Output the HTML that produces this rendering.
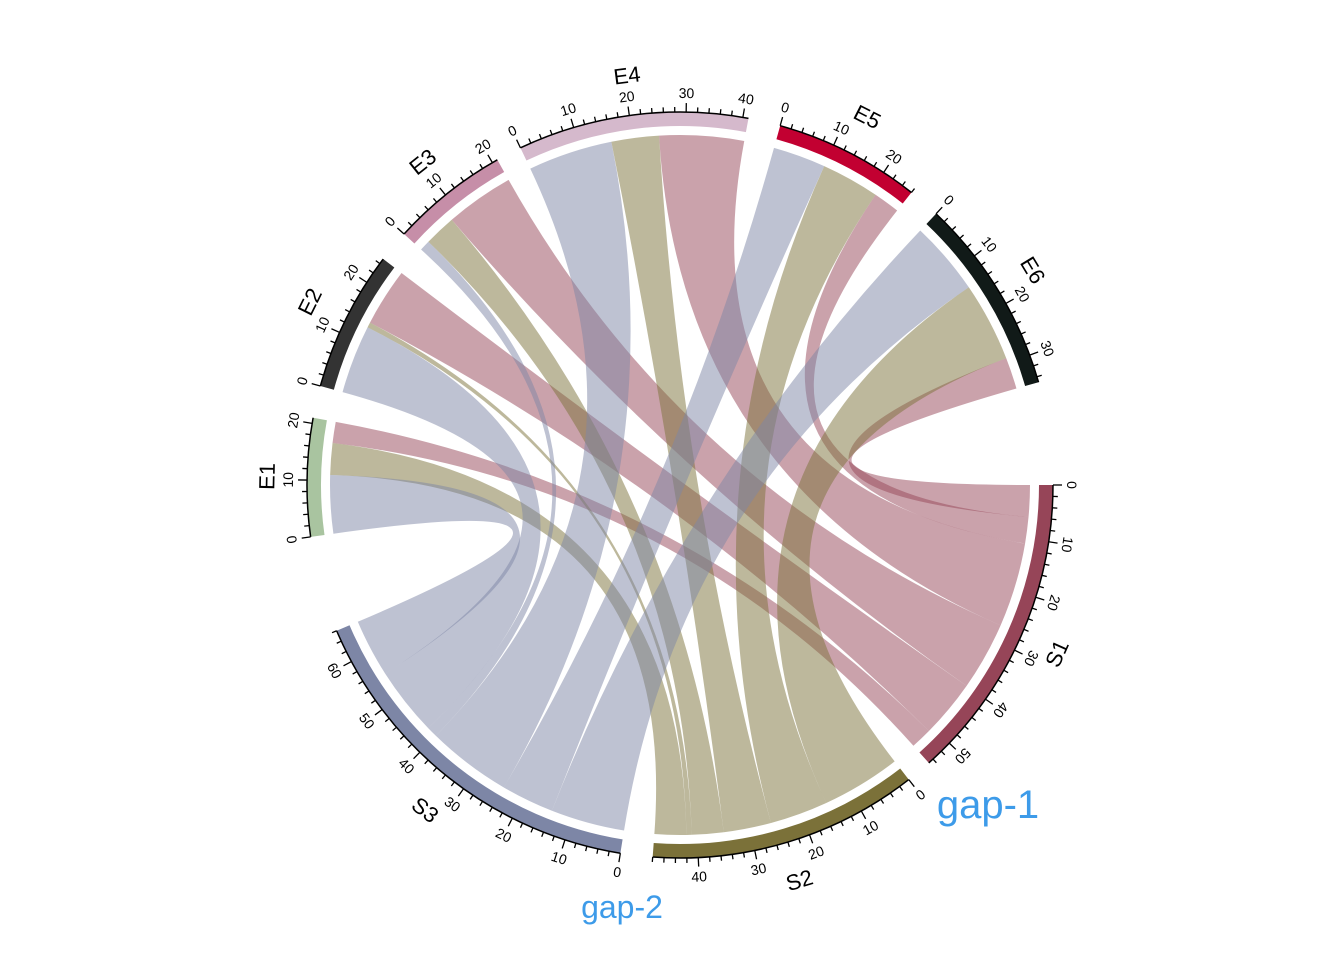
<!DOCTYPE html>
<html><head><meta charset="utf-8"><style>
html,body{margin:0;padding:0;background:#fff;}
svg{display:block;font-family:"Liberation Sans",sans-serif;}
</style></head><body>
<svg id="chart" width="1344" height="960" viewBox="0 0 1344 960">
<g id="chords"></g>
<g id="tracks"></g>
<text x="988" y="818" font-size="40" fill="#3d9be9" text-anchor="middle">gap-1</text>
<text x="622" y="918" font-size="32" fill="#3d9be9" text-anchor="middle">gap-2</text>
</svg>
<script>
const sectors = ["S1","S2","S3","E1","E2","E3","E4","E5","E6"];
const sectorColors = ["#964558","#7b7139","#7d86a6","#a9c4a0","#333333","#c68ea8","#d5b9cc","#c20031","#111a18"];
const gapsAfter = [4,5,15,5,5,4,5,5,16];
const sources = ["S1","S2","S3"];
const targets = ["E1","E2","E3","E4","E5","E6"];
const flowS1 = [4,11,13,16,5,6];
const flowS2 = [6,1,6,9,11,15];
const flowS3 = [11,13,2,16,10,14];
const flows = [flowS1,flowS2,flowS3];

const NS="http://www.w3.org/2000/svg";
const cx=680, cy=485, rIn=350, rT0=359, rT1=373;
const totals = sectors.map(s=>{
  if(s[0]==="S"){const i=sources.indexOf(s);return flows[i].reduce((a,b)=>a+b,0);}
  const j=targets.indexOf(s);return flows.reduce((a,f)=>a+f[j],0);
});
const unit=(360-gapsAfter.reduce((a,b)=>a+b,0))/totals.reduce((a,b)=>a+b,0);
const start=[];let ang=0;
sectors.forEach((s,i)=>{start.push(ang);ang+=totals[i]*unit+gapsAfter[i];});
function angOf(si,v){return start[si]+v*unit;}
function pt(a,r){const t=a*Math.PI/180;return [cx+r*Math.cos(t),cy+r*Math.sin(t)];}
function f(p){return p[0].toFixed(2)+","+p[1].toFixed(2);}

const pos={};
sources.forEach((s,i)=>{let off=0;const si=sectors.indexOf(s);
  for(let j=targets.length-1;j>=0;j--){pos[s+"-"+targets[j]+"-s"]=[angOf(si,off),angOf(si,off+flows[i][j])];off+=flows[i][j];}});
targets.forEach((t,j)=>{let off=0;const ti=sectors.indexOf(t);
  for(let i=sources.length-1;i>=0;i--){pos[sources[i]+"-"+t+"-t"]=[angOf(ti,off),angOf(ti,off+flows[i][j])];off+=flows[i][j];}});

const gC=document.getElementById("chords");
sources.forEach((s,i)=>{targets.forEach((t,j)=>{
  if(!flows[i][j])return;
  const a=pos[s+"-"+t+"-s"], b=pos[s+"-"+t+"-t"];
  const c=cx+","+cy;
  const d="M"+f(pt(a[0],rIn))+" A"+rIn+","+rIn+" 0 0 1 "+f(pt(a[1],rIn))+
    " Q"+c+" "+f(pt(b[0],rIn))+" A"+rIn+","+rIn+" 0 0 1 "+f(pt(b[1],rIn))+
    " Q"+c+" "+f(pt(a[0],rIn))+"Z";
  const p=document.createElementNS(NS,"path");
  p.setAttribute("d",d);
  p.setAttribute("fill",sectorColors[i]);
  p.setAttribute("fill-opacity","0.5");
  
  
  gC.appendChild(p);
});});

const gT=document.getElementById("tracks");
sectors.forEach((s,i)=>{
  const a0=start[i], a1=start[i]+totals[i]*unit;
  const g=document.createElementNS(NS,"g");
  
  
  const d="M"+f(pt(a0,rT0))+" A"+rT0+","+rT0+" 0 0 1 "+f(pt(a1,rT0))+" L"+f(pt(a1,rT1))+" A"+rT1+","+rT1+" 0 0 0 "+f(pt(a0,rT1))+"Z";
  const p=document.createElementNS(NS,"path");
  p.setAttribute("d",d);p.setAttribute("fill",sectorColors[i]);
  
  
  g.appendChild(p);
  const ax=document.createElementNS(NS,"path");
  ax.setAttribute("d","M"+f(pt(a0,rT1))+" A"+rT1+","+rT1+" 0 0 1 "+f(pt(a1,rT1)));
  ax.setAttribute("stroke","#000");ax.setAttribute("stroke-width","1.5");ax.setAttribute("fill","none");
  
  
  g.appendChild(ax);
  for(let v=0;v<=totals[i];v+=2){
    const major=v%10===0;const a=angOf(i,v);
    const l=document.createElementNS(NS,"line");
    const p1=pt(a,rT1),p2=pt(a,rT1+(major?9:5));
    l.setAttribute("x1",p1[0]);l.setAttribute("y1",p1[1]);l.setAttribute("x2",p2[0]);l.setAttribute("y2",p2[1]);
    l.setAttribute("stroke","#000");l.setAttribute("stroke-width","1.3");
    
    
    g.appendChild(l);
    if(major){
      const lp=pt(a,rT1+19);
      const rot=(a>45&&a<180)?a-90:a+90;
      const tx=document.createElementNS(NS,"text");
      tx.setAttribute("x",lp[0]);tx.setAttribute("y",lp[1]);
      tx.setAttribute("font-size","14");tx.setAttribute("text-anchor","middle");
      tx.setAttribute("dominant-baseline","central");
      tx.setAttribute("transform","rotate("+rot+" "+lp[0]+" "+lp[1]+")");
      tx.textContent=v;
      
      
      g.appendChild(tx);
    }
  }
  const am=(a0+a1)/2;const np=pt(am,rT1+40);
  const rot=(am>0&&am<180)?am-90:am+90;
  const nt=document.createElementNS(NS,"text");
  nt.setAttribute("x",np[0]);nt.setAttribute("y",np[1]);
  nt.setAttribute("font-size","22");nt.setAttribute("text-anchor","middle");
  nt.setAttribute("dominant-baseline","central");
  nt.setAttribute("transform","rotate("+rot+" "+np[0]+" "+np[1]+")");
  nt.textContent=s;
  
  
  g.appendChild(nt);
  gT.appendChild(g);
});
</script>
</body></html>
